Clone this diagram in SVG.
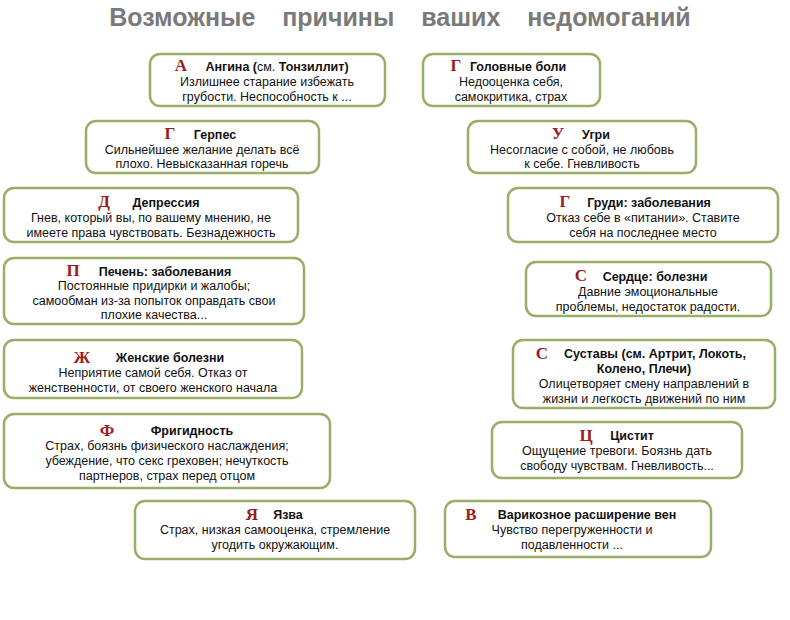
<svg xmlns="http://www.w3.org/2000/svg" width="790" height="620" viewBox="0 0 790 620">
<style>
.b{fill:#fff;stroke:#9aae6a;stroke-width:2.5}
text{font-family:"Liberation Sans",Arial,sans-serif;font-size:12.5px;fill:#111;text-anchor:middle}
.t{font-weight:bold}
.l{font-family:"Liberation Serif",serif;font-size:17px;font-weight:bold;fill:#9b1c1c}
.h{font-size:25px;font-weight:bold;fill:#7a7a7a;word-spacing:20px}
</style>
<rect width="790" height="620" fill="#fff"/>
<text class="h" x="400" y="26">Возможные причины ваших недомоганий</text>
<g id="n1"><rect class="b" x="150" y="54" width="235" height="52" rx="10"/><text class="l" x="181" y="71">А</text><text class="t" x="277" y="71">Ангина  (<tspan font-weight="normal">см.</tspan> Тонзиллит)</text><text x="267" y="86">Излишнее старание избежать</text><text x="267" y="101">грубости. Неспособность к ...</text></g>
<g id="n2"><rect class="b" x="423" y="54" width="177" height="52" rx="10"/><text class="l" x="456" y="71">Г</text><text class="t" x="518" y="71">Головные боли</text><text x="511" y="86">Недооценка себя,</text><text x="511" y="101">самокритика,  страх</text></g>
<g id="n3"><rect class="b" x="86" y="121" width="233" height="52" rx="10"/><text class="l" x="170" y="139">Г</text><text class="t" x="215" y="139">Герпес</text><text x="202" y="154">Сильнейшее желание делать всё</text><text x="202" y="168">плохо. Невысказанная горечь</text></g>
<g id="n4"><rect class="b" x="468" y="121" width="228" height="52" rx="10"/><text class="l" x="558" y="139">У</text><text class="t" x="596" y="139">Угри</text><text x="582" y="154">Несогласие с собой, не любовь</text><text x="582" y="168">к себе. Гневливость</text></g>
<g id="n5"><rect class="b" x="4" y="188" width="294" height="54" rx="10"/><text class="l" x="104" y="207">Д</text><text class="t" x="166" y="207">Депрессия</text><text x="151" y="222">Гнев, который вы, по вашему мнению, не</text><text x="151" y="237">имеете права чувствовать. Безнадежность</text></g>
<g id="n6"><rect class="b" x="508" y="188" width="270" height="54" rx="10"/><text class="l" x="565" y="207">Г</text><text class="t" x="649" y="207">Груди: заболевания</text><text x="643" y="222">Отказ себе в «питании». Ставите</text><text x="643" y="237">себя на последнее место</text></g>
<g id="n7"><rect class="b" x="4" y="258" width="300" height="66" rx="10"/><text class="l" x="73" y="276">П</text><text class="t" x="165" y="276">Печень: заболевания</text><text x="154" y="290">Постоянные придирки и жалобы;</text><text x="154" y="305">самообман из-за попыток оправдать свои</text><text x="154" y="319">плохие  качества...</text></g>
<g id="n8"><rect class="b" x="526" y="262" width="245" height="54" rx="10"/><text class="l" x="581" y="281">С</text><text class="t" x="655" y="281">Сердце: болезни</text><text x="648" y="296">Давние эмоциональные</text><text x="648" y="311">проблемы, недостаток радости.</text></g>
<g id="n9"><rect class="b" x="4" y="340" width="298" height="58" rx="10"/><text class="l" x="82" y="363">Ж</text><text class="t" x="170" y="362">Женские болезни</text><text x="153" y="377">Неприятие самой себя. Отказ от</text><text x="153" y="392">женственности, от своего женского начала</text></g>
<g id="n10"><rect class="b" x="513" y="340" width="262" height="68" rx="10"/><text class="l" x="542" y="359">С</text><text class="t" x="655" y="358">Суставы (см. Артрит,  Локоть,</text><text class="t" x="644" y="373">Колено, Плечи)</text><text x="644" y="388">Олицетворяет смену направлений в</text><text x="644" y="403">жизни и легкость движений по ним</text></g>
<g id="n11"><rect class="b" x="4" y="414" width="326" height="74" rx="10"/><text class="l" x="107" y="436">Ф</text><text class="t" x="192" y="435">Фригидность</text><text x="167" y="450">Страх, боязнь физического наслаждения;</text><text x="167" y="465">убеждение, что секс греховен; нечуткость</text><text x="167" y="480">партнеров, страх перед отцом</text></g>
<g id="n12"><rect class="b" x="492" y="422" width="250" height="56" rx="10"/><text class="l" x="586" y="441">Ц</text><text class="t" x="632" y="440">Цистит</text><text x="617" y="455">Ощущение тревоги. Боязнь дать</text><text x="617" y="470">свободу чувствам. Гневливость...</text></g>
<g id="n13"><rect class="b" x="135" y="501" width="280" height="58" rx="10"/><text class="l" x="252" y="520">Я</text><text class="t" x="288" y="519">Язва</text><text x="275" y="534">Страх, низкая самооценка, стремление</text><text x="275" y="549">угодить окружающим.</text></g>
<g id="n14"><rect class="b" x="445" y="501" width="266" height="56" rx="10"/><text class="l" x="471" y="520">В</text><text class="t" x="587" y="519">Варикозное расширение вен</text><text x="572" y="534">Чувство перегруженности и</text><text x="572" y="549">подавленности ...</text></g>
<g id="connectors"></g>
</svg>
